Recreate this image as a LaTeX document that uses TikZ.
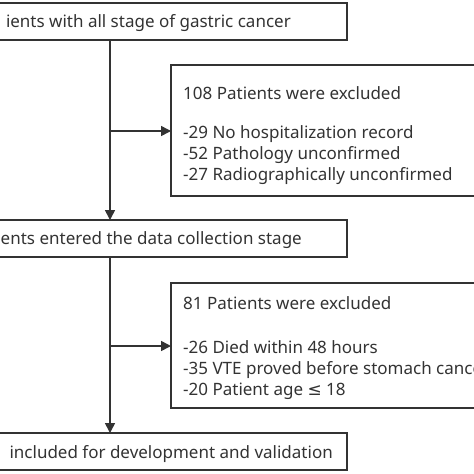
\documentclass[tikz,border=0pt]{standalone}
\usepackage{fontspec}
\setmainfont{Noto Sans}
\newfontfamily\symfont{DejaVu Sans}
\usetikzlibrary{arrows.meta}
\definecolor{ink}{HTML}{333333}
\tikzset{
  box/.style={draw=ink, line width=1.6pt},
  txt/.style={text=ink, inner sep=0pt, font=\fontsize{17}{20}\selectfont},
  flow/.style={draw=ink, line width=1.6pt, -{Triangle[length=10pt,width=10pt]}},
  line/.style={draw=ink, line width=1.6pt}
}
\begin{document}
\begin{tikzpicture}[x=1pt,y=-1pt]
\useasboundingbox (0,0) rectangle (474,474);
\clip (0,0) rectangle (474,474);
\fill[white] (0,0) rectangle (474,474);
% main boxes
\draw[box] (-60,3) rectangle (347,40);
\node[txt, anchor=base east] (t1) at (291,27) {ients with all stage of gastric cancer};
\draw[box] (-60,220) rectangle (347,257);
\node[txt, anchor=base east] (t2) at (302,244) {ents entered the data collection stage};
\draw[box] (-60,433) rectangle (347,470);
\node[txt, anchor=base east] (t3) at (333,458) {included for development and validation};
% exclusion boxes
\draw[box] (171,65) rectangle (540,196);
\node[txt, anchor=base west] (e1) at (183,99) {108 Patients were excluded};
\node[txt, anchor=base west] (e1a) at (183,138) {-29 No hospitalization record};
\node[txt, anchor=base west] (e1b) at (183,159) {-52 Pathology unconfirmed};
\node[txt, anchor=base west] (e1c) at (183,180) {-27 Radiographically unconfirmed};
\draw[box] (171,283) rectangle (540,408);
\node[txt, anchor=base west] (e2) at (183,309) {81 Patients were excluded};
\node[txt, anchor=base west] (e2a) at (183,353) {-26 Died within 48 hours};
\node[txt, anchor=base west] (e2b) at (183,374) {-35 VTE proved before stomach cancer};
\node[txt, anchor=base west] (e2c) at (183,395) {-20 Patient age {\symfont ≤} 18};
% connectors
\coordinate (a1) at (110,40);
\coordinate (a2) at (110,220);
\coordinate (b1) at (110,131);
\coordinate (b2) at (171,131);
\coordinate (c1) at (110,257);
\coordinate (c2) at (110,433);
\coordinate (d1) at (110,346);
\coordinate (d2) at (171,346);
\draw[flow] (a1) -- (a2);
\draw[flow] (b1) -- (b2);
\draw[flow] (c1) -- (c2);
\draw[flow] (d1) -- (d2);
\end{tikzpicture}
\end{document}
